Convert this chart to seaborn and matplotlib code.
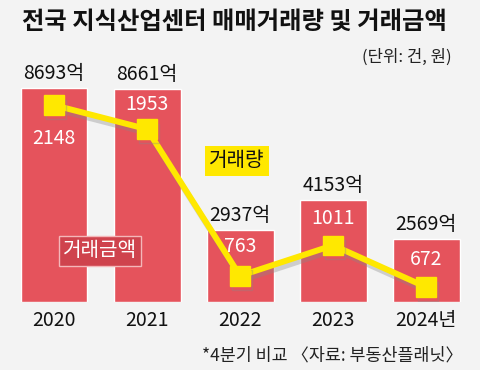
import numpy as np
import matplotlib
matplotlib.use('Agg')
import matplotlib.pyplot as plt
import matplotlib.patheffects as pe
import seaborn as sns

# data
years = ['2020', '2021', '2022', '2023', '2024']
tick_labels = ['2020', '2021', '2022', '2023', '2024년']
amount = [8693, 8661, 2937, 4153, 2569]     # 거래금액 (억)
volume = [2148, 1953, 763, 1011, 672]       # 거래량 (건)

BG = '#f3f3f3'
RED = '#e5535c'
YELLOW = '#ffe800'

sns.set_style('white')
plt.rcParams['font.family'] = ['Noto Sans CJK KR', 'DejaVu Sans']

fig = plt.figure(figsize=(4.8, 3.7), dpi=100, facecolor=BG)
ax = fig.add_axes([0.0156, 0.1838, 0.969, 0.665])
ax.set_facecolor('none')

sns.barplot(x=years, y=amount, color=RED, width=0.72, saturation=1, ax=ax)
ax.set_ylim(0, 10000)
ax.set_xlim(-0.5, len(years) - 0.5)
ax.bar_label(ax.containers[0], labels=[f'{v}억' for v in amount],
             padding=3, fontsize=14, color='#111111')
ax.set_xticks(range(len(years)))
ax.set_xticklabels(tick_labels, fontsize=14, color='#111111')
ax.tick_params(axis='x', length=0, pad=6)
ax.set_yticks([])
ax.set_xlabel('')
ax.set_ylabel('')
sns.despine(ax=ax, left=True, bottom=True)

# line on its own scale
ax2 = ax.twinx()
ax2.set_ylim(551, 2547)
xs = np.arange(len(years))
ax2.plot(xs, volume, color=YELLOW, lw=4.3, marker='s', markersize=14,
         solid_joinstyle='miter',
         path_effects=[pe.SimpleLineShadow(offset=(1.5, -3), shadow_color='#888888', alpha=0.35),
                       pe.Normal()])
ax2.set_yticks([])
for s in ax2.spines.values():
    s.set_visible(False)

offsets = [-24, 18, 21, 19, 20]
for x, v, off in zip(xs, volume, offsets):
    ax2.annotate(f'{v}', (x, v), xytext=(0, off), textcoords='offset points',
                 ha='center', va='center', fontsize=14, color='white')

# series tags
fig.text(237 / 480, 1 - 161 / 370, '거래량', ha='center', va='center', fontsize=14.5,
         color='#111111', bbox=dict(boxstyle='square,pad=0.2', fc=YELLOW, ec='none'))
fig.text(100 / 480, 1 - 251 / 370, '거래금액', ha='center', va='center', fontsize=14.5,
         color='white', bbox=dict(boxstyle='square,pad=0.22', fc='#cf434d', ec='#f4b7b9', lw=1))

fig.text(22 / 480, 1 - 22 / 370, '전국 지식산업센터 매매거래량 및 거래금액',
         ha='left', va='center', fontsize=17.5, fontweight='bold', color='#111111')
fig.text(452 / 480, 1 - 57 / 370, '(단위: 건, 원)', ha='right', va='center',
         fontsize=12, color='#222222')
fig.text(463 / 480, 1 - 355 / 370, '*4분기 비교 〈자료: 부동산플래닛〉', ha='right', va='center',
         fontsize=12.5, color='#222222')

fig.savefig('out.png', dpi=100, facecolor=BG)
